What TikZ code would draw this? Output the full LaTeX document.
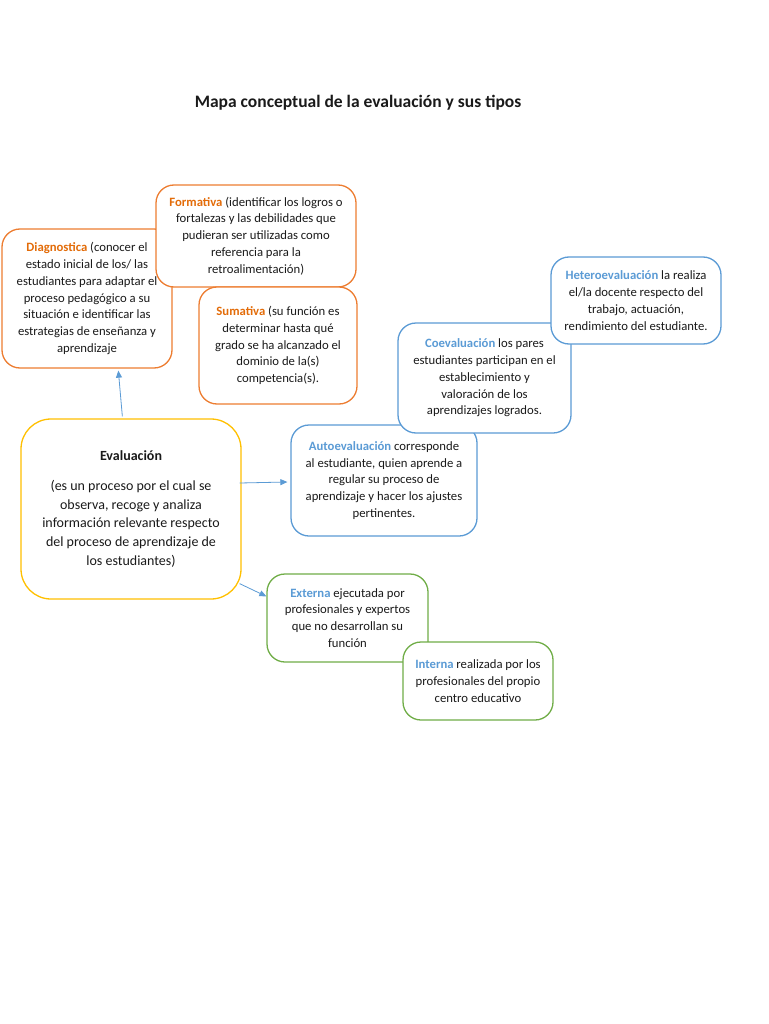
\documentclass[tikz,border=0pt]{standalone}
\usepackage{fontspec}
\setmainfont{Carlito}
\usetikzlibrary{arrows.meta,calc}
\definecolor{orangeline}{HTML}{ED7D31}
\definecolor{orangelab}{HTML}{E36C09}
\definecolor{blueline}{HTML}{5B9BD5}
\definecolor{bluelab}{HTML}{5B9BD5}
\definecolor{greenline}{HTML}{70AD47}
\definecolor{yellowline}{HTML}{FFC000}
\definecolor{textc}{HTML}{1A1A1A}
\newcommand{\olab}[1]{\textcolor{orangelab}{\textbf{#1}}}
\newcommand{\blab}[1]{\textcolor{bluelab}{\textbf{#1}}}
\newcommand{\fsmall}{\fontsize{12.7}{16.8}\selectfont}
\newcommand{\fbig}{\fontsize{14}{18.75}\selectfont}
\begin{document}
\begin{tikzpicture}[x=1pt,y=-1pt,
  cbox/.style={draw, rounded corners=18pt, fill=white, line width=1.3pt,
    align=center, inner sep=0pt, font=\fsmall, text=textc},
  obox/.style={cbox, draw=orangeline},
  bbox/.style={cbox, draw=blueline},
  gbox/.style={cbox, draw=greenline},
  ybox/.style={cbox, draw=yellowline, rounded corners=30pt, font=\fbig},
  arr/.style={-{Triangle[length=7pt,width=6pt]}, draw=blueline, line width=0.8pt}]
\useasboundingbox (0,0) rectangle (768,1024);
\fill[white] (0,0) rectangle (768,1024);

\node[font=\fontsize{17.5}{21}\selectfont\bfseries, text=textc] (title) at (358,103) {Mapa conceptual de la evaluación y sus tipos};

\node[obox, minimum width=170pt, minimum height=139pt] (diag) at (87,298.5)
  {\olab{Diagnostica} (conocer el\\estado inicial de los/ las\\estudiantes para adaptar el\\proceso pedagógico a su\\situación e identificar las\\estrategias de enseñanza y\\aprendizaje};
\node[obox, minimum width=200pt, minimum height=102pt] (form) at (256,236)
  {\olab{Formativa} (identificar los logros o\\fortalezas y las debilidades que\\pudieran ser utilizadas como\\referencia para la\\retroalimentación)};
\node[obox, minimum width=158pt, minimum height=117pt] (suma) at (278,345.5)
  {\olab{Sumativa} (su función es\\determinar hasta qué\\grado se ha alcanzado el\\dominio de la(s)\\competencia(s).};

\node[ybox, minimum width=220pt, minimum height=180pt] (eval) at (131,509)
  {\textbf{Evaluación}\\[11pt](es un proceso por el cual se\\observa, recoge y analiza\\información relevante respecto\\del proceso de aprendizaje de\\los estudiantes)};

\node[bbox, minimum width=186pt, minimum height=111pt] (auto) at (384,480.5)
  {\blab{Autoevaluación} corresponde\\al estudiante, quien aprende a\\regular su proceso de\\aprendizaje y hacer los ajustes\\pertinentes.};
\node[bbox, minimum width=173pt, minimum height=110pt] (coev) at (484.5,378)
  {\blab{Coevaluación} los pares\\estudiantes participan en el\\establecimiento y\\valoración de los\\aprendizajes logrados.};
\node[bbox, minimum width=170pt, minimum height=87pt] (hete) at (636,300.5)
  {\blab{Heteroevaluación} la realiza\\el/la docente respecto del\\trabajo, actuación,\\rendimiento del estudiante.};

\node[gbox, minimum width=161pt, minimum height=88pt] (exte) at (347.5,618)
  {\blab{Externa} ejecutada por\\profesionales y expertos\\que no desarrollan su\\función};
\node[gbox, minimum width=150pt, minimum height=78pt] (inte) at (478,681)
  {\blab{Interna} realizada por los\\profesionales del propio\\centro educativo};

\draw[arr] ([xshift=102pt,yshift=2pt]eval.north west) -- ([xshift=117pt,yshift=-2pt]diag.south west);
\draw[arr] ([xshift=-2pt,yshift=26pt]eval.east) -- ([xshift=-3pt,yshift=-1.5pt]auto.west);
\draw[arr] ([xshift=-2pt,yshift=16pt]eval.south east) -- ([yshift=-23pt]exte.north west);
\end{tikzpicture}
\end{document}
